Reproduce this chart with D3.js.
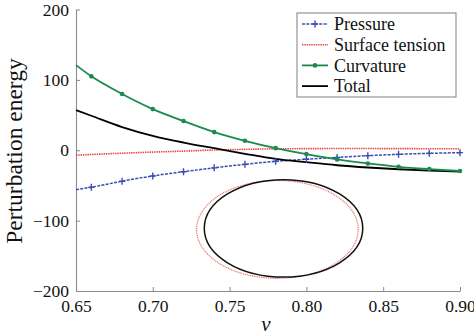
<!DOCTYPE html>
<html><head><meta charset="utf-8">
<script src="https://cdn.jsdelivr.net/npm/d3@7"></script>
<style>
html,body{margin:0;padding:0;background:#fff;}
svg{display:block;}
</style></head>
<body><svg id="chart" width="474" height="335"></svg>
<script>
// ---- data ----
const nu         = [0.65, 0.66, 0.68, 0.70, 0.72, 0.74, 0.76, 0.78, 0.80, 0.82, 0.84, 0.86, 0.88, 0.90];
const pressure   = [-56, -52.5, -44, -36.5, -30.5, -25, -20, -15.7, -12.8, -10.3, -7.7, -5.8, -4.4, -3.4];
const surface    = [-7, -6, -4.2, -2.6, -1.2, 0.3, 1.3, 2.0, 2.3, 2.4, 2.4, 2.3, 2.2, 2.1];
const curvature  = [121, 105, 80, 58.5, 41.5, 25.8, 13.4, 3, -5.5, -13, -18.8, -23.5, -26.8, -29.5];
const total      = [57, 49, 33, 20.5, 11, 3, -5, -12.3, -17, -21.3, -24.5, -27, -29, -30.5];
const markerNu   = [0.66, 0.68, 0.70, 0.72, 0.74, 0.76, 0.78, 0.80, 0.82, 0.84, 0.86, 0.88, 0.90];
const xTicks     = [0.65, 0.70, 0.75, 0.80, 0.85, 0.90];
const yTicks     = [-200, -100, 0, 100, 200];
const seriesNames = ["Pressure", "Surface tension", "Curvature", "Total"];
// inset shapes (data units): [cx, cy, rx, ry]
const insetTotal   = [0.7851, -111, 0.0516, 69.2];
const insetSurface = [0.7811, -112.5, 0.0526, 69.5];

// ---- chart ----
const FONT = "Liberation Serif";
const svg = d3.select("#chart");
const x = d3.scaleLinear().domain([0.65, 0.90]).range([76, 460]);
const y = d3.scaleLinear().domain([-200, 200]).range([291, 9.5]);

const colors = {"Pressure":"#3a4db5","Surface tension":"#e8403c","Curvature":"#1b8a50","Total":"#000"};
const dashes = {"Pressure":"3,1.3","Surface tension":"1.4,0.9","Curvature":null,"Total":null};
const widths = {"Pressure":1.5,"Surface tension":1.6,"Curvature":1.8,"Total":1.8};
const values = {"Pressure":pressure,"Surface tension":surface,"Curvature":curvature,"Total":total};

// axes
const fmt = d => d < 0 ? "\u2212" + Math.abs(d) : String(d);
const yAxis = d3.axisLeft(y).tickValues(yTicks).tickFormat(fmt).tickSizeInner(-4).tickSizeOuter(0).tickPadding(7);
const xAxis = d3.axisBottom(x).tickValues(xTicks).tickFormat(d3.format(".2f")).tickSizeInner(-4).tickSizeOuter(0).tickPadding(9);
const gy = svg.append("g").attr("transform", `translate(${x(0.65)},0)`).call(yAxis);
const gx = svg.append("g").attr("transform", `translate(0,${y(-200)})`).call(xAxis);
[gx, gy].forEach(g => {
  g.attr("font-family", FONT).attr("font-size", 17.5);
  g.select(".domain").attr("stroke", "#8a8a8a").attr("stroke-width", 1.1);
  g.selectAll(".tick line").attr("stroke", "#8a8a8a");
  g.selectAll(".tick text").attr("fill", "#111").attr("font-family", FONT).attr("font-size", 17.5);
});

// inset ellipses
svg.append("ellipse")
  .attr("cx", x(insetSurface[0])).attr("cy", y(insetSurface[1]))
  .attr("rx", x(insetSurface[0] + insetSurface[2]) - x(insetSurface[0]))
  .attr("ry", y(insetSurface[1]) - y(insetSurface[1] + insetSurface[3]))
  .attr("fill", "none").attr("stroke", "#e86a6a").attr("stroke-width", 1.2).attr("stroke-dasharray", "1,0.8");
svg.append("ellipse")
  .attr("cx", x(insetTotal[0])).attr("cy", y(insetTotal[1]))
  .attr("rx", x(insetTotal[0] + insetTotal[2]) - x(insetTotal[0]))
  .attr("ry", y(insetTotal[1]) - y(insetTotal[1] + insetTotal[3]))
  .attr("fill", "none").attr("stroke", "#111").attr("stroke-width", 1.5);

// lines
const line = d3.line().x((d, i) => x(nu[i])).y(d => y(d)).curve(d3.curveMonotoneX);
["Surface tension", "Pressure", "Total", "Curvature"].forEach(name => {
  svg.append("path").datum(values[name]).attr("d", line)
    .attr("fill", "none").attr("stroke", colors[name]).attr("stroke-width", widths[name])
    .attr("stroke-dasharray", dashes[name]);
});

// markers
function valAt(arr, v) { return arr[nu.findIndex(n => Math.abs(n - v) < 1e-9)]; }
function plus(g, cx, cy, col) {
  g.append("path").attr("d", `M${cx - 3},${cy}H${cx + 3}M${cx},${cy - 3.5}V${cy + 3.5}`)
    .attr("stroke", col).attr("stroke-width", 1.4).attr("fill", "none");
}
markerNu.forEach(v => {
  plus(svg, x(v), y(valAt(pressure, v)), colors["Pressure"]);
  svg.append("circle").attr("cx", x(v)).attr("cy", y(valAt(curvature, v))).attr("r", 2.3)
    .attr("fill", colors["Curvature"]);
});

// legend
const lg = svg.append("g");
lg.append("rect").attr("x", 297).attr("y", 13).attr("width", 159).attr("height", 84)
  .attr("fill", "#fff").attr("stroke", "#8a8a8a").attr("stroke-width", 1.1);
seriesNames.forEach((name, i) => {
  const cy = 24 + i * 20.7;
  lg.append("line").attr("x1", 302).attr("x2", 328).attr("y1", cy).attr("y2", cy)
    .attr("stroke", colors[name]).attr("stroke-width", widths[name]).attr("stroke-dasharray", dashes[name]);
  if (name === "Pressure") plus(lg, 315, cy, colors[name]);
  if (name === "Curvature") lg.append("circle").attr("cx", 315).attr("cy", cy).attr("r", 2.3).attr("fill", colors[name]);
  lg.append("text").attr("x", 334).attr("y", cy + 6.2).text(name)
    .attr("font-family", FONT).attr("font-size", 18).attr("fill", "#111");
});

// axis labels
svg.append("text").attr("transform", "translate(21.5,151) rotate(-90)").attr("text-anchor", "middle")
  .attr("font-family", FONT).attr("font-size", 23.5).attr("fill", "#111").text("Perturbation energy");
svg.append("text").attr("x", 266).attr("y", 331).attr("text-anchor", "middle")
  .attr("font-family", FONT).attr("font-size", 21).attr("font-style", "italic").attr("fill", "#111").text("\u03bd");
</script></body></html>
